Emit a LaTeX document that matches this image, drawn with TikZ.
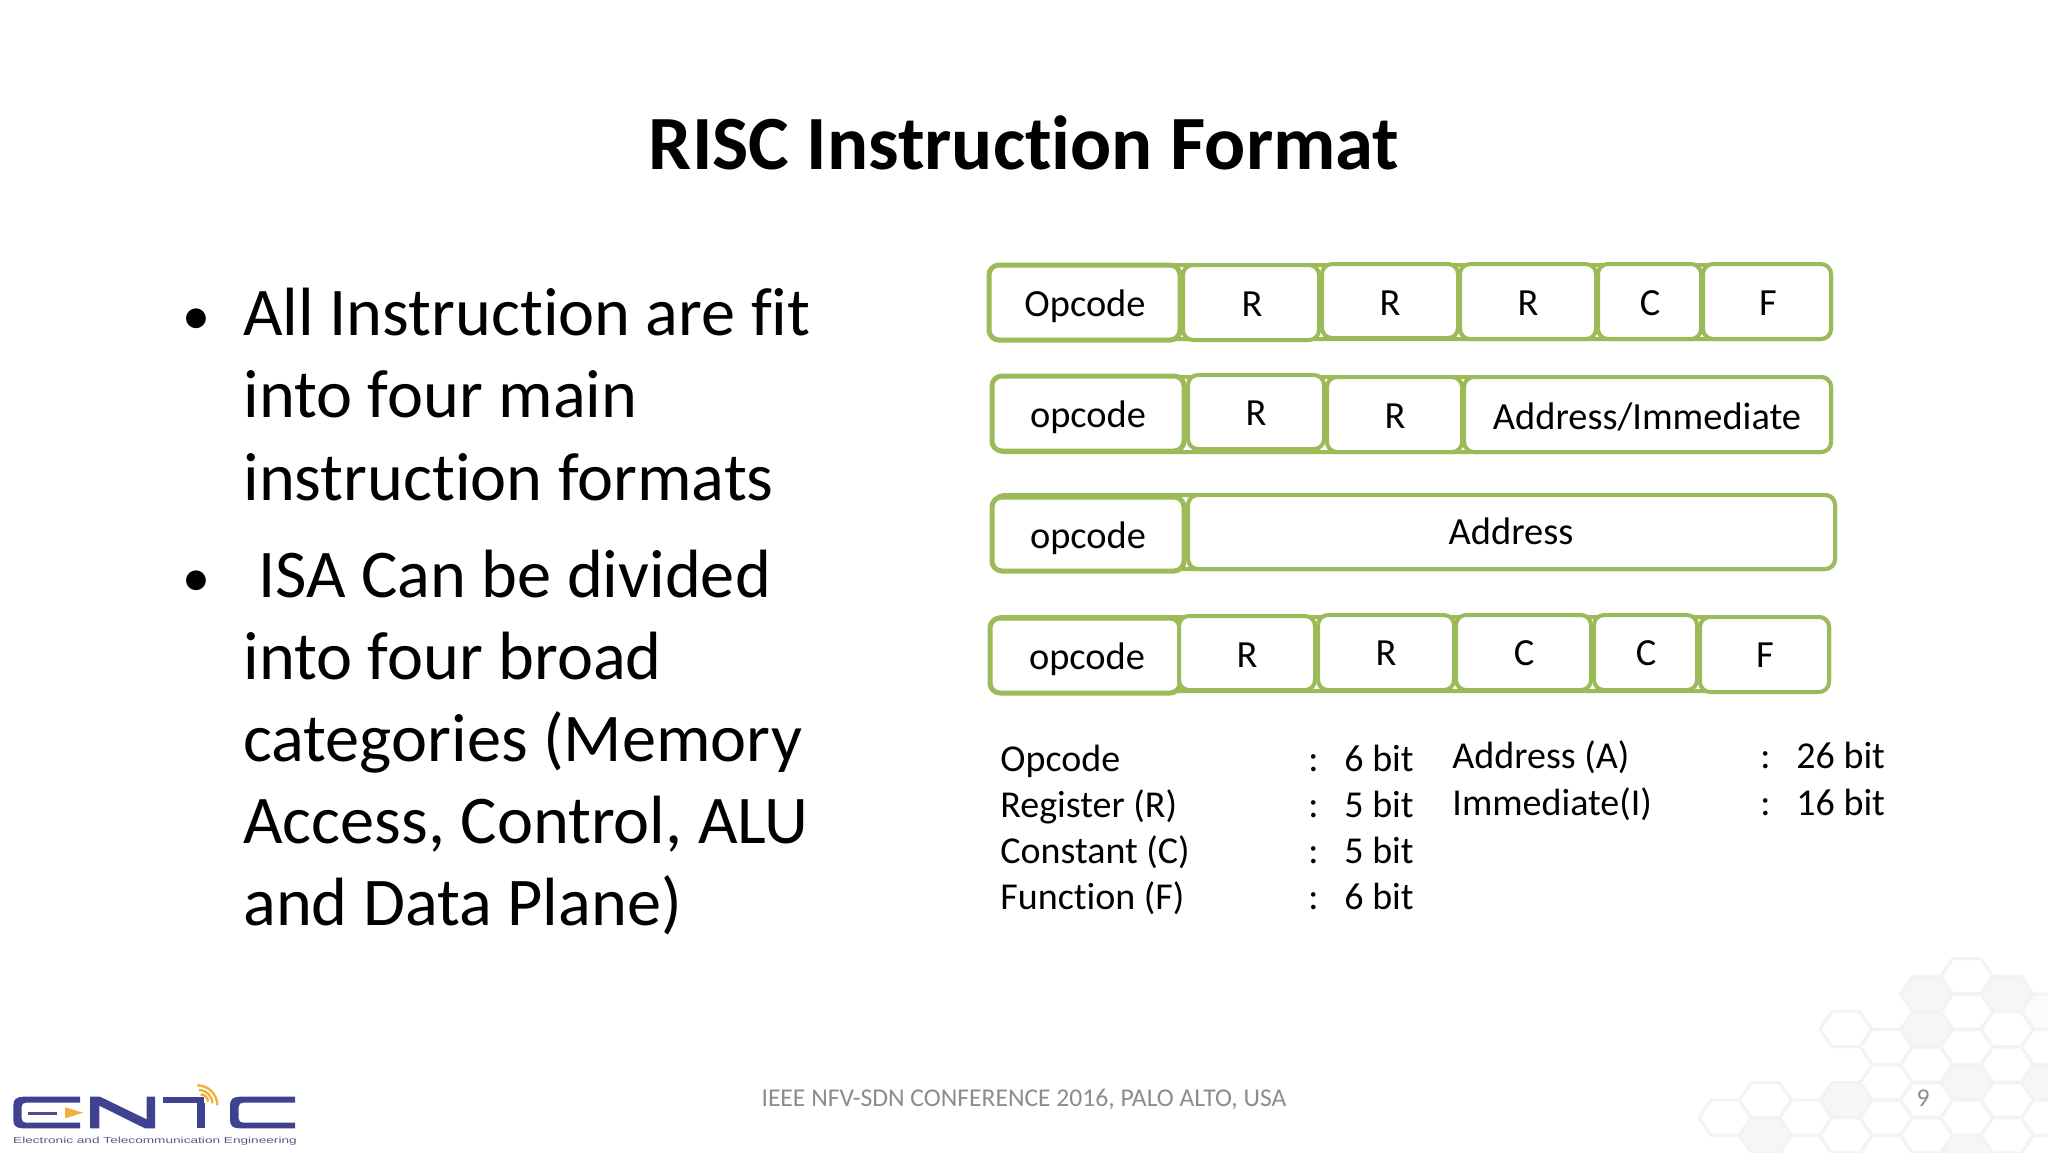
\documentclass[tikz,border=0pt]{standalone}
\usepackage{fontspec}
\setmainfont[Ligatures=NoCommon]{Carlito}
\newfontfamily\logofont{Liberation Sans}
\definecolor{fieldgreen}{HTML}{9BBB59}
\definecolor{hexline}{HTML}{F2F3F3}
\definecolor{hexfill}{HTML}{F5F7F7}
\definecolor{logoblue}{HTML}{3F4290}
\definecolor{logoorange}{HTML}{F0B040}
\newcommand{\pxfont}[1]{\fontsize{#1}{#1}\selectfont}
% name, x1, y1, x2, y2, style
\newcommand{\fld}[6]{%
  \pgfmathsetmacro{\fldw}{(#4-#2)*0.5}%
  \pgfmathsetmacro{\fldh}{(#5-#3)*0.5}%
  \node[#6,minimum width=\fldw pt,minimum height=\fldh pt] (#1) at ({(#2+#4)/2},{(#3+#5)/2}) {};}
% name, x, baseline, text
\newcommand{\fldtext}[4]{\node[fieldtext] (#1) at (#2,#3) {#4};}
\newcommand{\hexat}[3]{%
  \pgfmathsetmacro{\hexx}{1725+40.3*#1}%
  \pgfmathsetmacro{\hexy}{1117.7+17.7*#2}%
  \draw[hexcell,fill=#3,shift={(\hexx,\hexy)}] (-26,0)--(-14,-17.5)--(14,-17.5)--(26,0)--(14,17.5)--(-14,17.5)--cycle;}
\tikzset{
  fieldbox/.style={draw=fieldgreen,fill=white,line width=2pt,rounded corners=5pt,inner sep=0pt,outer sep=0pt},
  opbox/.style={fieldbox,line width=2.5pt},
  fieldtext/.style={anchor=base,inner sep=0pt,yshift=-0.7pt,font=\pxfont{19.2}},
  legend/.style={anchor=base west,inner sep=0pt,font=\pxfont{19}},
  bullettext/.style={anchor=base west,inner sep=0pt,font=\pxfont{34.15}},
  bulletdot/.style={anchor=base west,inner sep=0pt,font=\pxfont{28}},
  titletext/.style={anchor=base,inner sep=0pt,font=\pxfont{38.35}\bfseries},
  foot/.style={anchor=base,inner sep=0pt,text=gray!90,font=\pxfont{12.8}},
  hexcell/.style={draw=hexline,line width=1.5pt,line join=round},
}
\begin{document}
\begin{tikzpicture}[x=0.5pt,y=-0.5pt]
\useasboundingbox (0,0) rectangle (2048,1152);
\fill[white] (0,0) rectangle (2048,1152);
% hexagon backdrop
\begin{scope}
\clip (0,0) rectangle (2048,1152);
\hexat{6}{-8}{white}\hexat{5}{-7}{hexfill}\hexat{7}{-7}{hexfill}\hexat{6}{-6}{white}
\hexat{8}{-6}{hexfill!50}\hexat{5}{-5}{hexfill}\hexat{7}{-5}{white}\hexat{3}{-5}{white}
\hexat{4}{-4}{white}\hexat{6}{-4}{white}\hexat{8}{-4}{white}\hexat{5}{-3}{white}
\hexat{7}{-3}{white}\hexat{4}{-2}{white}\hexat{6}{-2}{hexfill}\hexat{8}{-2}{hexfill}
\hexat{3}{-1}{hexfill}\hexat{1}{-1}{white}\hexat{5}{-1}{white}\hexat{7}{-1}{white}
\hexat{0}{0}{white}\hexat{2}{0}{white}\hexat{4}{0}{white}\hexat{6}{0}{white}\hexat{8}{0}{white}
\hexat{1}{1}{hexfill}\hexat{3}{1}{white}\hexat{5}{1}{white}\hexat{7}{1}{white}
\hexat{2}{2}{white}\hexat{4}{2}{white}\hexat{6}{2}{hexfill}\hexat{8}{2}{white}
\end{scope}
% title
\node[titletext] (title) at (1024,169) {RISC Instruction Format};
% bullets
\node[bulletdot] (b1) at (182,334) {•};
\node[bullettext] (l1) at (243,335) {All Instruction are fit};
\node[bullettext] (l2) at (243,417) {into four main};
\node[bullettext] (l3) at (243,500) {instruction formats};
\node[bulletdot] (b2) at (182,596) {•};
\node[bullettext] (l4) at (258,597) {ISA Can be divided};
\node[bullettext] (l5) at (243,679) {into four broad};
\node[bullettext] (l6) at (243,761) {categories (Memory};
\node[bullettext] (l7) at (243,843) {Access, Control, ALU};
\node[bullettext] (l8) at (243,925) {and Data Plane)};
% format rows
\fld{rowa}{990}{265}{1831}{339}{fieldbox}
\fld{a1}{989}{265}{1180}{340}{opbox}
\fld{a2}{1183}{265}{1319}{340}{fieldbox}
\fld{a3}{1322}{264}{1458}{338}{fieldbox}
\fld{a4}{1460}{264}{1596}{339}{fieldbox}
\fld{a5}{1598}{264}{1701}{339}{fieldbox}
\fld{a6}{1703}{264}{1831}{339}{fieldbox}
\fldtext{ta1}{1085}{315}{Opcode}\fldtext{ta2}{1252}{315}{R}\fldtext{ta3}{1390}{314}{R}
\fldtext{ta4}{1528}{314}{R}\fldtext{ta5}{1650}{314}{C}\fldtext{ta6}{1768}{314}{F}
\fld{rowb}{994}{377}{1831}{452}{fieldbox}
\fld{b1box}{992}{376}{1184}{451}{opbox}
\fld{b2box}{1188}{375}{1324}{449}{fieldbox}
\fld{b3box}{1327}{377}{1462}{452}{fieldbox}
\fld{b4box}{1464}{377}{1831}{452}{fieldbox}
\fldtext{tb1}{1088}{426}{opcode}\fldtext{tb2}{1256}{424}{R}\fldtext{tb3}{1395}{427}{R}
\fldtext{tb4}{1647}{428}{Address/Immediate}
\fld{rowc}{994}{495}{1835}{569}{fieldbox}
\fld{c1box}{992}{497}{1184}{571}{opbox}
\fld{c2box}{1188}{495}{1835}{569}{fieldbox}
\fldtext{tc1}{1088}{547}{opcode}\fldtext{tc2}{1511}{543}{Address}
\fld{rowd}{992}{617}{1829}{691}{fieldbox}
\fld{d1box}{990}{618}{1180}{693}{opbox}
\fld{d2box}{1179}{616}{1315}{690}{fieldbox}
\fld{d3box}{1318}{615}{1454}{690}{fieldbox}
\fld{d4box}{1456}{615}{1591}{690}{fieldbox}
\fld{d5box}{1594}{615}{1697}{690}{fieldbox}
\fld{d6box}{1700}{617}{1829}{692}{fieldbox}
\fldtext{td1}{1087}{668}{opcode}\fldtext{td2}{1247}{666}{R}\fldtext{td3}{1386}{664}{R}
\fldtext{td4}{1524}{664}{C}\fldtext{td5}{1646}{664}{C}\fldtext{td6}{1765}{666}{F}
% legend
\node[legend] (k1) at (1000,771) {Opcode};
\node[legend] (k2) at (1000,817) {Register (R)};
\node[legend] (k3) at (1000,863) {Constant (C)};
\node[legend] (k4) at (1000,909) {Function (F)};
\node[legend] (s1) at (1308,771) {:};
\node[legend] (s2) at (1308,817) {:};
\node[legend] (s3) at (1308,863) {:};
\node[legend] (s4) at (1308,909) {:};
\node[legend] (v1) at (1344,771) {6 bit};
\node[legend] (v2) at (1344,817) {5 bit};
\node[legend] (v3) at (1344,863) {5 bit};
\node[legend] (v4) at (1344,909) {6 bit};
\node[legend] (k5) at (1452,768) {Address (A)};
\node[legend] (k6) at (1452,815) {Immediate(I)};
\node[legend] (s5) at (1760,768) {:};
\node[legend] (s6) at (1760,815) {:};
\node[legend] (v5) at (1796,768) {26 bit};
\node[legend] (v6) at (1796,815) {16 bit};
% footer
\node[foot] (conf) at (1024,1106) {IEEE NFV-SDN CONFERENCE 2016, PALO ALTO, USA};
\node[foot] (page) at (1923,1106) {9};
% logo
\begin{scope}[shift={(0,1060)},x=0.16667pt,y=-0.16667pt]
\fill[logoblue,even odd rule] (240,110)--(70,110) .. controls (50,110) and (40,118) .. (40,135)--(40,180) .. controls (40,198) and (50,205) .. (70,205)--(240,205)--(240,188)--(78,188) .. controls (70,188) and (65,184) .. (65,176)--(65,140) .. controls (65,132) and (70,128) .. (78,128)--(240,128)--cycle;
\fill[logoblue!80!gray] (85,155) rectangle (170,165);
\fill[logoorange] (195,142)--(250,158)--(195,175)--cycle;
\fill[logoblue] (270,205)--(270,110)--(300,110)--(440,178)--(440,110)--(465,110)--(465,205)--(435,205)--(298,137)--(298,205)--cycle;
\fill[logoblue] (490,110) rectangle (612,128);
\fill[logoblue] (590,128) rectangle (615,205);
\draw[logoorange,line width=1.2pt] (602,103) arc[start angle=-90,end angle=0,radius=22];
\draw[logoorange,line width=1.2pt] (597,90) arc[start angle=-90,end angle=0,radius=40];
\draw[logoorange,line width=1.2pt] (592,76) arc[start angle=-90,end angle=0,radius=60];
\fill[logoblue,even odd rule] (885,110)--(720,110) .. controls (700,110) and (690,118) .. (690,135)--(690,180) .. controls (690,198) and (700,205) .. (720,205)--(885,205)--(885,188)--(730,188) .. controls (722,188) and (716,184) .. (716,176)--(716,140) .. controls (716,132) and (722,128) .. (730,128)--(885,128)--cycle;
\node[anchor=center,inner sep=0pt,text=logoblue!60!gray,xscale=1.55,font=\logofont\fontsize{4.4}{5}\selectfont] (logotext) at (465,244) {Electronic and Telecommunication Engineering};
\end{scope}
\end{tikzpicture}
\end{document}
